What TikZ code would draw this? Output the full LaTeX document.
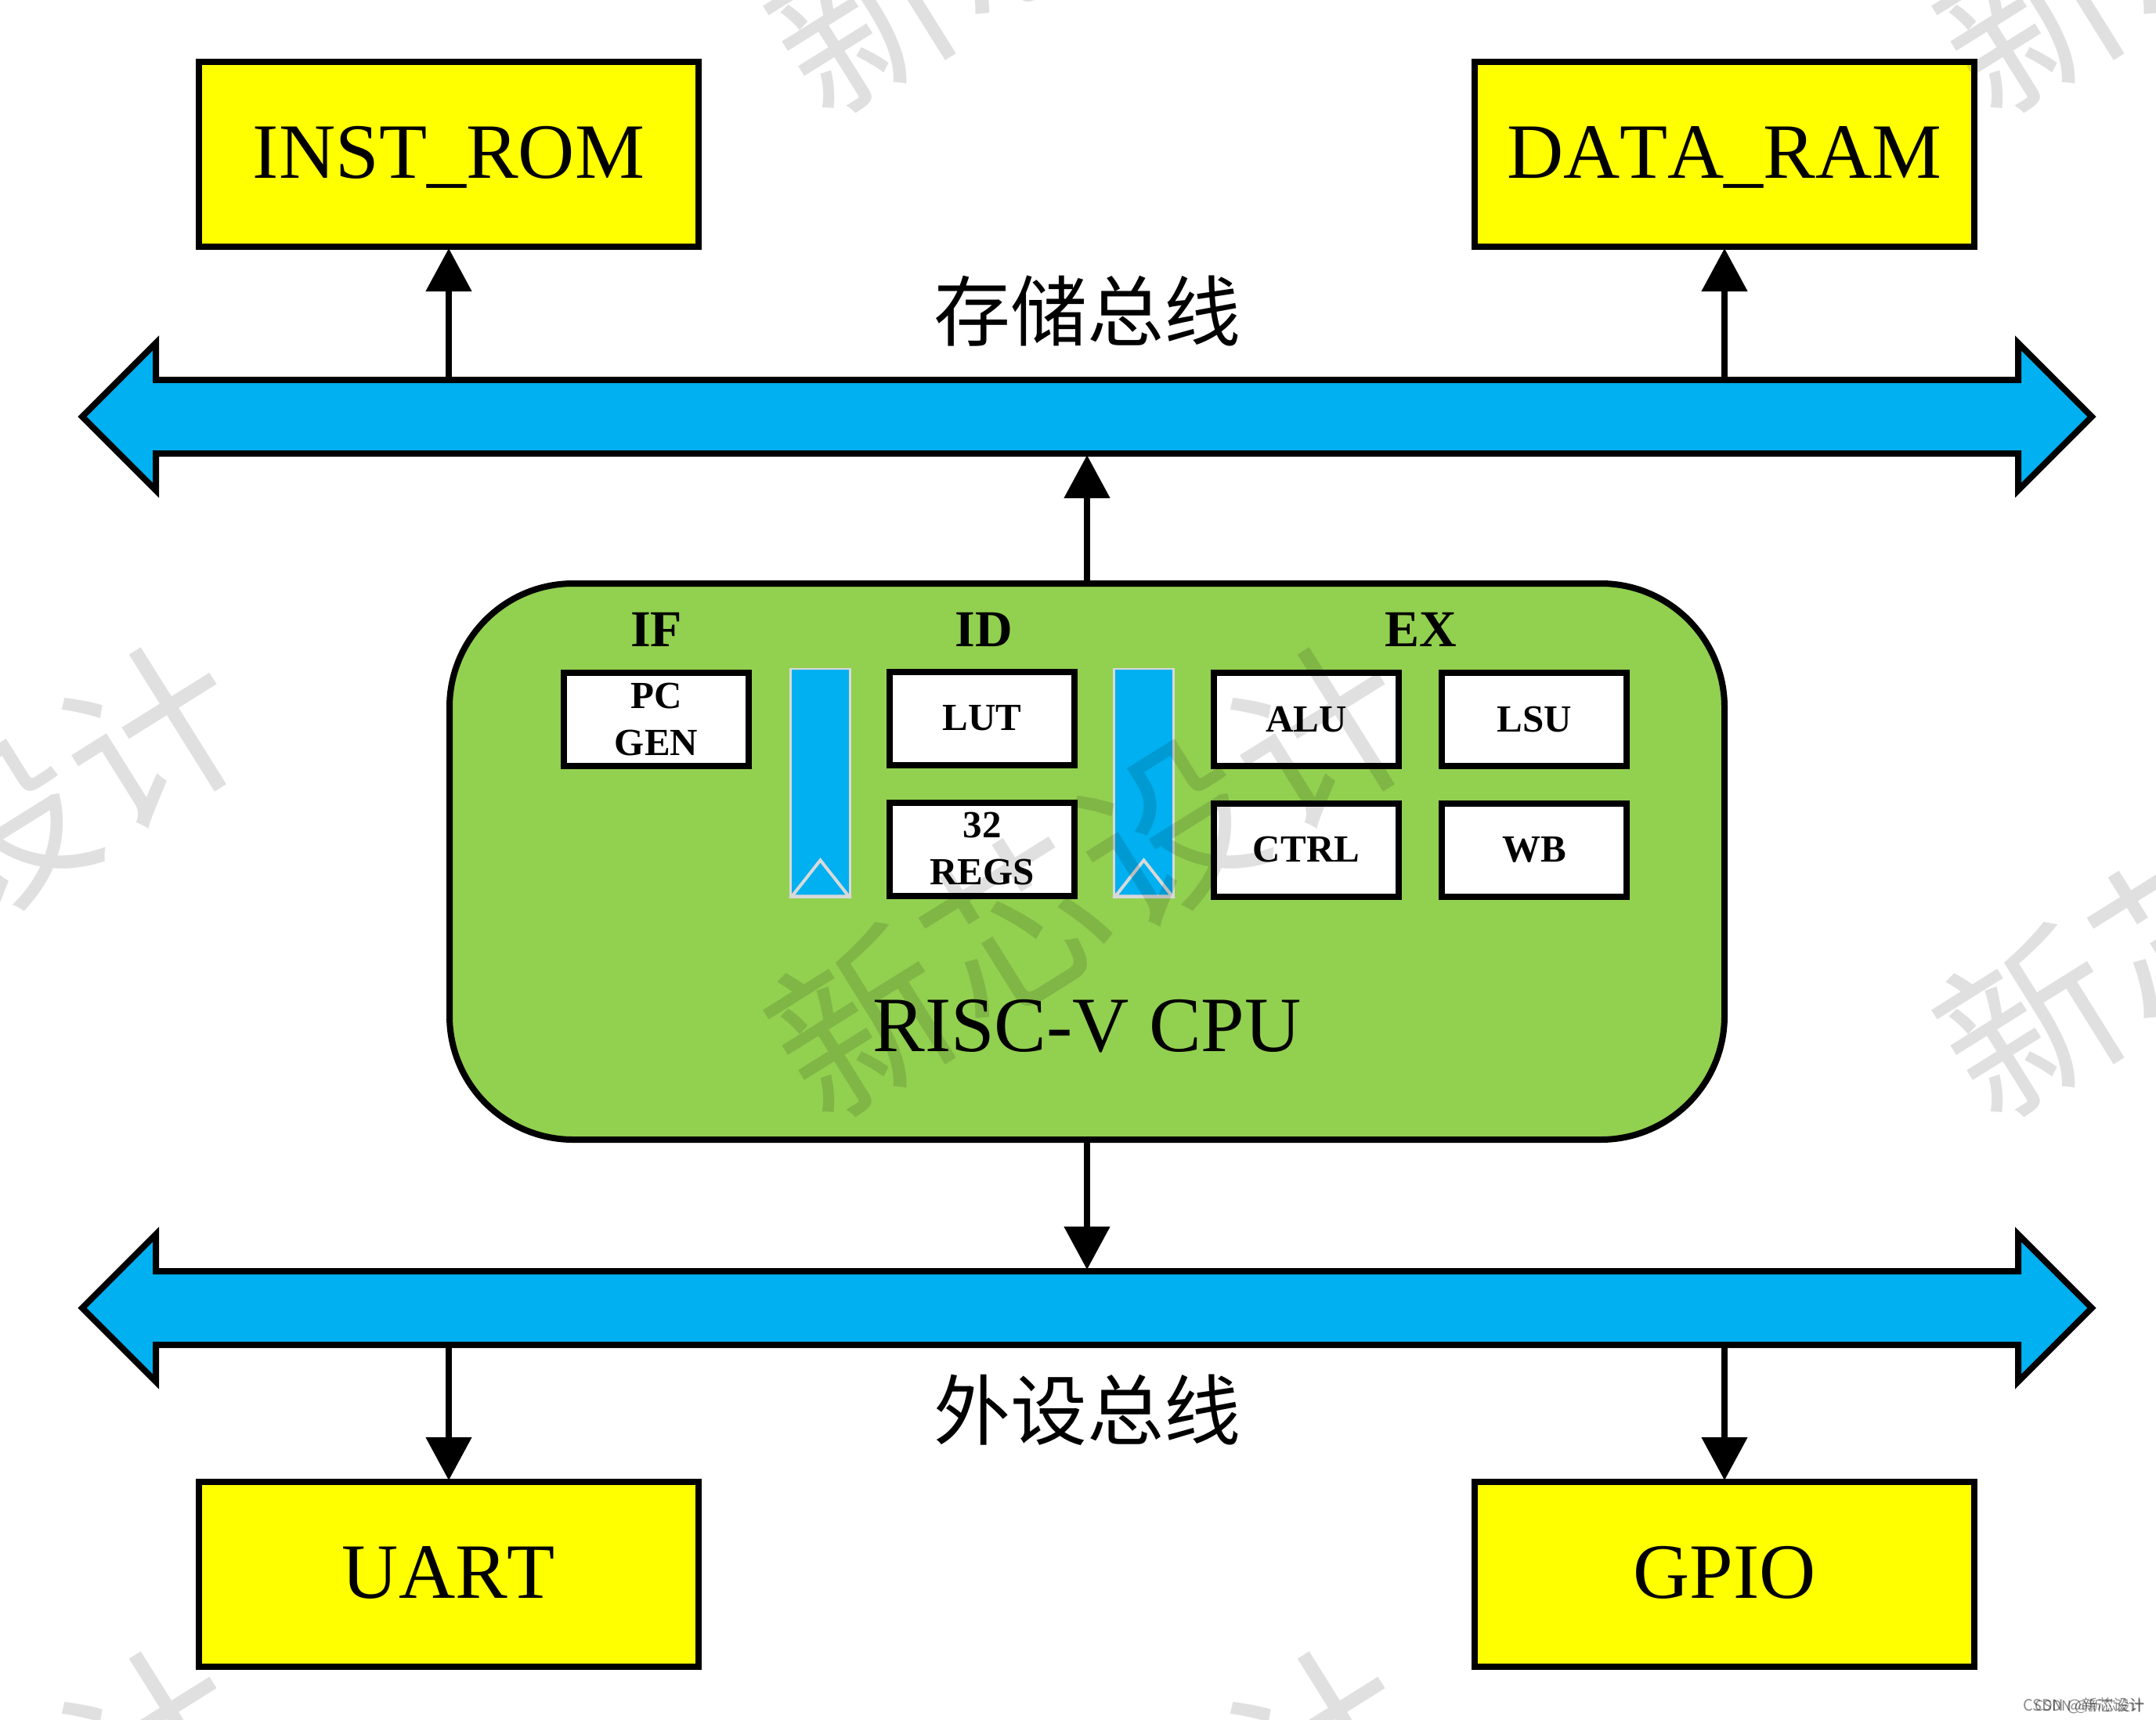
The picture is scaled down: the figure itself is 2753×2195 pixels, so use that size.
\documentclass[tikz,border=0pt]{standalone}
\usepackage{fontspec}
\setmainfont[Kerning=Off]{Liberation Serif}
\newfontfamily\cjk{Noto Sans CJK SC}
\usetikzlibrary{arrows.meta}
\definecolor{busblue}{HTML}{00B0F0}
\definecolor{cpugreen}{HTML}{92D050}
\definecolor{memyellow}{HTML}{FFFF00}
\tikzset{
  mem/.style={draw=black,line width=8pt,fill=memyellow,minimum width=638pt,minimum height=236pt,inner sep=0pt,text height=66pt,text depth=6pt,font=\fontsize{100}{100}\selectfont},
  unit/.style={draw=black,line width=8pt,fill=white,minimum width=236pt,minimum height=119pt,inner sep=0pt,align=center,font=\fontsize{49}{60}\selectfont\bfseries},
  stage/.style={inner sep=0pt,font=\fontsize{66}{66}\selectfont\bfseries},
  bus/.style={inner sep=0pt,outer sep=0pt,minimum width=2378pt,minimum height=102pt},
  busbody/.style={draw=black,line width=8pt,fill=busblue,miter limit=10},
  buslabel/.style={inner sep=0pt,font=\cjk\fontsize{98}{98}\selectfont},
  pipe/.style={draw=black!15,line width=2.5pt,fill=busblue,minimum width=76pt,minimum height=292pt,inner sep=0pt},
  clk/.style={draw=black!15,line width=4pt,line join=miter},
  conn/.style={line width=8pt,shorten >=-2pt,-{Triangle[length=55pt,width=57pt]}},
  wm/.style={inner sep=0pt,rotate=32,text=black,text opacity=.12,font=\cjk\fontsize{225}{225}\selectfont},
  csdn/.style={inner sep=0pt,anchor=east,text=black,text opacity=.45}
}
\newcommand{\wmtext}{新\hspace{6pt}芯\hspace{6pt}设\hspace{6pt}计}
% the double-headed outline of a bus, round the centre of its named node
\newcommand{\busoutline}[1]{%
  \path[busbody] (#1.center) ++(-1283,0) -- ++(94,-94) -- ++(0,47) -- ++(2378,0) -- ++(0,-47)
    -- ++(94,94) -- ++(-94,94) -- ++(0,-47) -- ++(-2378,0) -- ++(0,47) -- cycle;}
\newcommand{\clkmark}[1]{%
  \draw[clk] ([xshift=3pt,yshift=3pt]#1.south west) -- ([yshift=49pt]#1.south) -- ([xshift=-3pt,yshift=3pt]#1.south east) -- cycle;}
\begin{document}
\begin{tikzpicture}[x=1pt,y=-1pt]
\clip (0,0) rectangle (2753,2195);
\fill[white] (0,0) rectangle (2753,2195);
% buses
\node[bus] (membus) at (1388,532) {};
\node[bus] (iobus) at (1388,1670) {};
\busoutline{membus}
\busoutline{iobus}
% memories and peripherals
\node[mem] (rom) at (573,197) {INST\_ROM};
\node[mem] (ram) at (2202,197) {DATA\_RAM};
\node[mem] (uart) at (573,2010) {UART};
\node[mem] (gpio) at (2202,2010) {GPIO};
% CPU
\node[draw=black,line width=8pt,fill=cpugreen,rounded corners=158pt,minimum width=1628pt,minimum height=710pt,inner sep=0pt] (cpu) at (1388,1100) {};
\node[inner sep=0pt,font=\fontsize{100}{100}\selectfont] (cpuname) at (1388,1310) {RISC-V CPU};
\node[stage] (if) at (838,804) {IF};
\node[stage] (id) at (1256,804) {ID};
\node[stage] (ex) at (1814,804) {EX};
\node[unit] (pcgen) at (838,918.5) {PC\\GEN};
\node[unit] (lut) at (1254,917) {LUT};
\node[unit] (regs) at (1254,1084) {32\\REGS};
\node[unit] (alu) at (1668,918.5) {ALU};
\node[unit] (ctrl) at (1668,1085) {CTRL};
\node[unit] (lsu) at (1959,918.5) {LSU};
\node[unit] (wb) at (1959,1085) {WB};
\node[pipe] (pipea) at (1047.5,1000) {};
\node[pipe] (pipeb) at (1460.5,1000) {};
\clkmark{pipea}
\clkmark{pipeb}
% bus labels
\node[buslabel] (memlabel) at (1388,397) {存储总线};
\node[buslabel] (iolabel) at (1388,1800) {外设总线};
% connectors
\draw[conn] (membus.north -| rom.south) -- (rom.south);
\draw[conn] (membus.north -| ram.south) -- (ram.south);
\draw[conn] (cpu.north) -- (cpu.north |- membus.south);
\draw[conn] (cpu.south) -- (cpu.south |- iobus.north);
\draw[conn] (iobus.south -| uart.north) -- (uart.north);
\draw[conn] (iobus.south -| gpio.north) -- (gpio.north);
% watermark
\node[wm] (wma) at (1394,1122) {\wmtext};
\node[wm] (wmb) at (2886,1122) {\wmtext};
\node[wm] (wmc) at (-98,1122) {\wmtext};
\node[wm] (wmd) at (1394,-160) {\wmtext};
\node[wm] (wme) at (2886,-160) {\wmtext};
\node[wm] (wmf) at (-98,2404) {\wmtext};
\node[wm] (wmg) at (1394,2404) {\wmtext};
\node[csdn,font=\cjk\fontsize{20}{20}\selectfont] (csdna) at (2739,2178) {CSDN @新芯设计};
\node[csdn,font=\cjk\fontsize{18}{18}\selectfont] (csdnb) at (2739,2178) {CSDN @新芯设计};
\end{tikzpicture}
\end{document}
